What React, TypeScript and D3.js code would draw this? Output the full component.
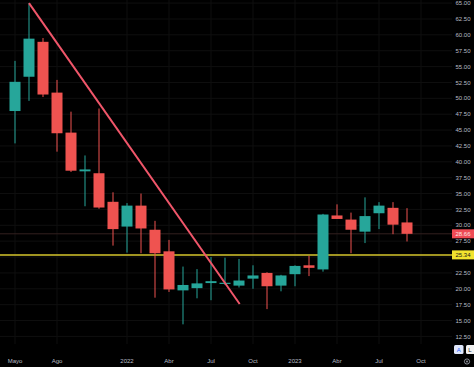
import React from "react";
import * as d3 from "d3";

const months = [
  "May21","Jun21","Jul21","Aug21","Sep21","Oct21","Nov21","Dec21",
  "Jan22","Feb22","Mar22","Apr22","May22","Jun22","Jul22","Aug22","Sep22","Oct22","Nov22","Dec22",
  "Jan23","Feb23","Mar23","Apr23","May23","Jun23","Jul23","Aug23","Sep23",
];
const opens = [48.0,53.4,58.9,50.9,44.6,38.5,38.2,33.7,29.8,33.1,29.3,25.9,19.75,20.1,20.9,20.85,20.5,21.6,22.5,20.5,22.3,23.7,23.05,31.55,30.9,29.0,31.9,32.75,30.45];
const highs = [55.9,65.0,59.5,52.9,47.9,41.0,48.4,35.2,33.5,35.0,30.7,27.7,23.5,23.1,25.0,24.9,24.7,23.7,22.6,22.2,23.7,25.2,31.8,33.3,32.0,34.4,33.65,33.65,32.7];
const lows = [42.9,49.6,50.2,41.6,38.4,33.0,32.6,26.8,25.7,25.6,18.6,19.5,14.4,18.5,18.2,20.6,20.2,20.0,16.8,19.6,20.4,22.0,22.7,31.0,25.6,27.2,29.4,28.6,27.45];
const closes = [52.6,59.4,50.6,44.5,38.6,38.8,32.8,29.4,33.1,29.5,25.6,19.9,20.6,20.85,21.2,20.95,21.3,22.1,20.4,22.1,23.6,23.3,31.7,31.0,29.3,31.45,33.1,30.1,28.66];

const xTickIdx = [0, 3, 8, 11, 14, 17, 20, 23, 26, 29];
const xTickLabels = ["Mayo", "Ago", "2022", "Abr", "Jul", "Oct", "2023", "Abr", "Jul", "Oct"];
const yTicks = [12.5,15,17.5,20,22.5,25,27.5,30,32.5,35,37.5,40,42.5,45,47.5,50,52.5,55,57.5,60,62.5,65];

const trendStart = { idx: 1, value: 65.0 };
const trendEnd = { idx: 16.05, value: 17.6 };
const supportLevel = 25.34;
const lastPrice = 28.66;

const W = 474, H = 367;
const plotRight = 452;
const GREEN = "#26a69a", RED = "#ef5350";

export default function App() {
  const x = d3.scaleLinear().domain([0, 29]).range([15, 421]);
  const y = d3.scaleLinear().domain([12.5, 65]).range([336.4, 3.1]);
  const bw = 11;
  const font = "'Liberation Sans', Arial, sans-serif";
  const visibleYLabels = yTicks.filter(
    (t) => Math.abs(y(t) - y(supportLevel)) > 6 && Math.abs(y(t) - y(lastPrice)) > 6
  );

  return (
    <svg width={W} height={H} style={{ position: "absolute", left: 0, top: 0, background: "#000" }} fontFamily={font}>
      <rect x={0} y={0} width={W} height={H} fill="#000" />
      {/* grid */}
      {yTicks.map((t) => (
        <line key={"gy" + t} x1={0} x2={plotRight} y1={y(t)} y2={y(t)} stroke="#0f0f0f" strokeWidth={1} />
      ))}
      {xTickIdx.map((i) => (
        <line key={"gx" + i} x1={x(i)} x2={x(i)} y1={0} y2={344} stroke="#0f0f0f" strokeWidth={1} />
      ))}
      {/* last price line */}
      <line x1={0} x2={plotRight} y1={y(lastPrice)} y2={y(lastPrice)} stroke="#33201f" strokeWidth={1} />
      {/* support line */}
      <line x1={0} x2={plotRight} y1={y(supportLevel)} y2={y(supportLevel)} stroke="#d6c62c" strokeWidth={1.5} />
      {/* candles */}
      {months.map((m, i) => {
        const o = opens[i], c = closes[i], hi = highs[i], lo = lows[i];
        const up = c >= o;
        const col = up ? GREEN : RED;
        const top = y(Math.max(o, c));
        const bot = y(Math.min(o, c));
        const cx = x(i);
        return (
          <g key={m}>
            <line x1={cx} x2={cx} y1={y(hi)} y2={y(lo)} stroke={col} strokeWidth={1} />
            <rect x={cx - bw / 2} y={top} width={bw} height={Math.max(1.2, bot - top)} fill={col} />
          </g>
        );
      })}
      {/* trend line */}
      <line x1={x(trendStart.idx)} y1={y(trendStart.value)} x2={x(trendEnd.idx)} y2={y(trendEnd.value)} stroke="#f0566a" strokeWidth={2} />
      {/* y axis labels */}
      {visibleYLabels.map((t) => (
        <text key={"yl" + t} x={455.5} y={y(t)} dy="0.35em" fontSize={6} fill="#b8bcc6">{t.toFixed(2)}</text>
      ))}
      {/* price labels */}
      <rect x={452} y={y(lastPrice) - 4.5} width={24} height={9} fill="#ef4b55" />
      <text x={455.5} y={y(lastPrice)} dy="0.35em" fontSize={6} fill="#fde3e3">{lastPrice.toFixed(2)}</text>
      <rect x={452} y={y(supportLevel) - 4.5} width={24} height={9} fill="#f2e32e" />
      <text x={455.5} y={y(supportLevel)} dy="0.35em" fontSize={6} fill="#1a1a1a">{supportLevel.toFixed(2)}</text>
      {/* x axis labels */}
      {xTickIdx.map((i, k) => (
        <text key={"xl" + k} x={x(i)} y={363} textAnchor="middle" fontSize={6} fill="#b8bcc6">{xTickLabels[k]}</text>
      ))}
      {/* buttons */}
      <rect x={454} y={345} width={9.5} height={9} rx={1.5} fill="#dfe7fb" />
      <text x={458.7} y={349.5} dy="0.35em" textAnchor="middle" fontSize={6} fill="#2962ff">A</text>
      <rect x={466} y={345} width={10} height={9} rx={1.5} fill="#f2f2f2" />
      <text x={470} y={349.5} dy="0.35em" textAnchor="middle" fontSize={6} fill="#222">L</text>
      <circle cx={467} cy={361.5} r={2.6} fill="none" stroke="#9a9ea8" strokeWidth={0.9} />
      <circle cx={467} cy={361.5} r={0.9} fill="#9a9ea8" />
    </svg>
  );
}
